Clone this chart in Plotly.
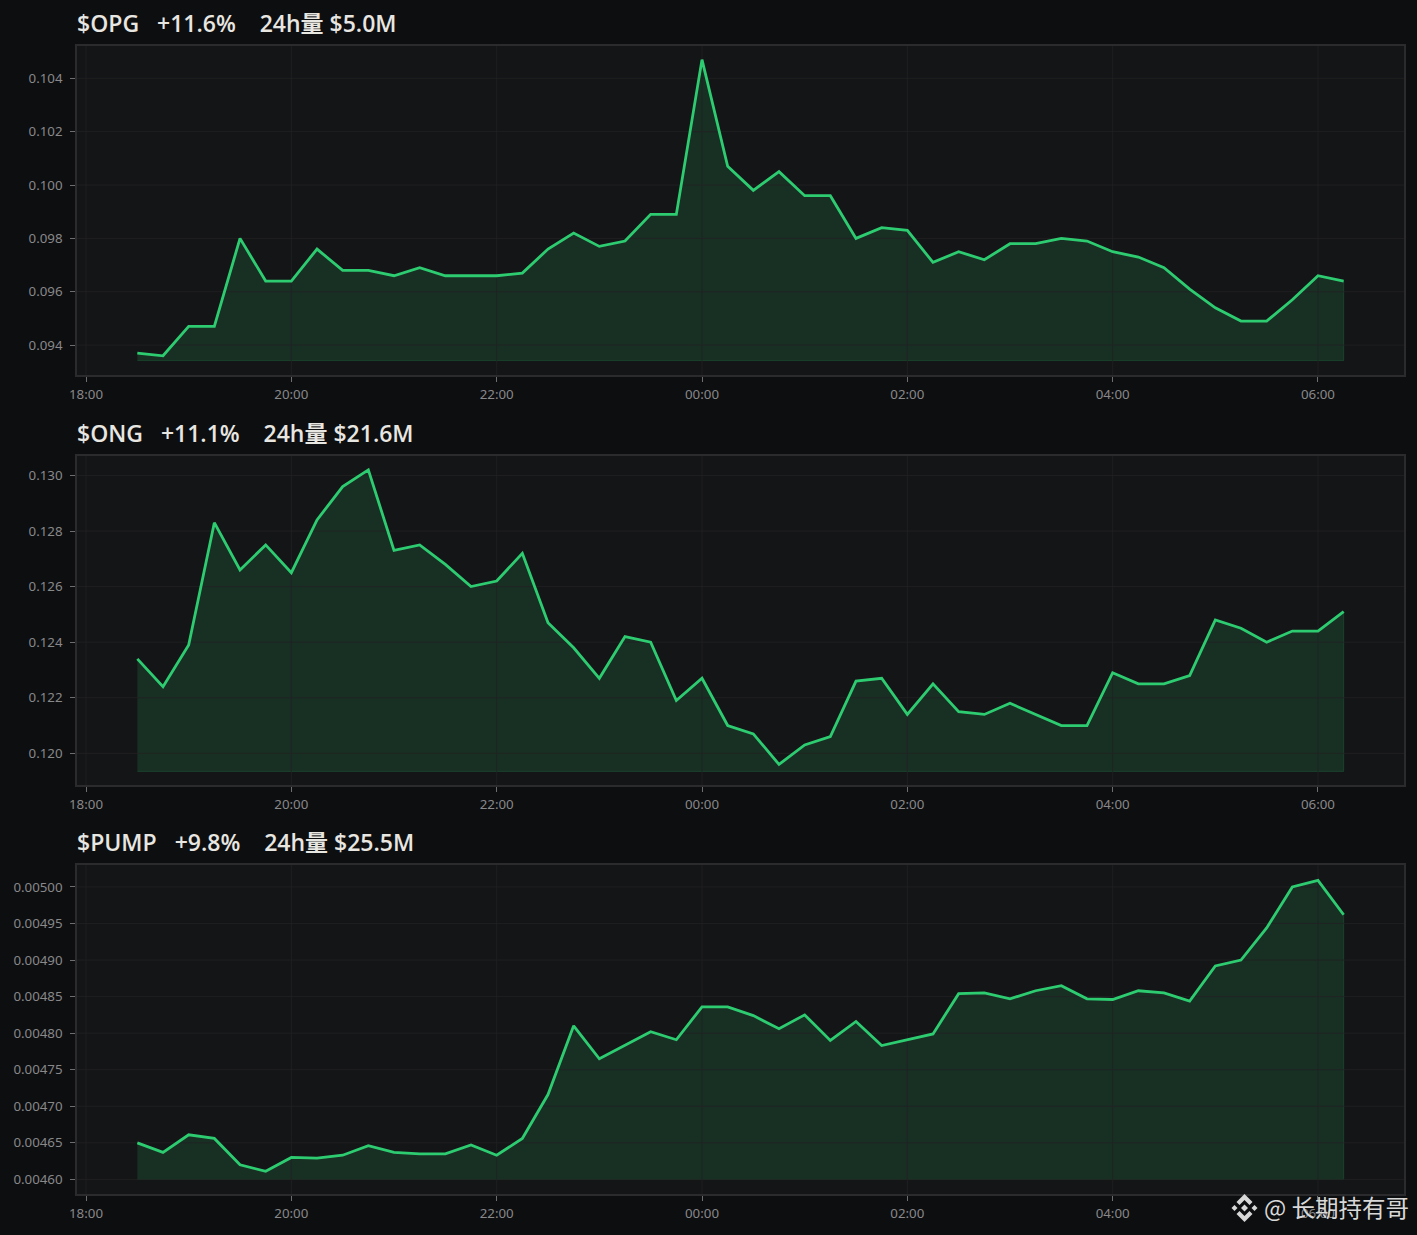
import pandas as pd
import plotly.graph_objects as go

FIG_WIDTH = 1417
FIG_HEIGHT = 1235

BG_COLOR = '#0d0e10'
PLOT_COLOR = '#141517'
GRID_COLOR = 'rgba(34,34,35,0.8)'
BORDER_COLOR = '#2b2b2d'
LINE_COLOR = '#2ecc71'
FILL_COLOR = 'rgba(46,204,113,0.15)'
TICK_COLOR = '#88888a'
TITLE_COLOR = '#e8e6e1'
FONT = 'Noto Sans, Open Sans, sans-serif'

times = pd.date_range('2025-01-01 18:30', periods=48, freq='15min')
x_ticks = pd.date_range('2025-01-01 18:00', periods=7, freq='2h')
x_labels = ['18:00', '20:00', '22:00', '00:00', '02:00', '04:00', '06:00']

titles = [
    '$OPG\u00a0\u00a0\u00a0+11.6%\u00a0\u00a0\u00a0\u00a024h量 $5.0M',
    '$ONG\u00a0\u00a0\u00a0+11.1%\u00a0\u00a0\u00a0\u00a024h量 $21.6M',
    '$PUMP\u00a0\u00a0\u00a0+9.8%\u00a0\u00a0\u00a0\u00a024h量 $25.5M',
]

opg = [0.0937, 0.0936, 0.0947, 0.0947, 0.0980, 0.0964, 0.0964, 0.0976, 0.0968, 0.0968,
       0.0966, 0.0969, 0.0966, 0.0966, 0.0966, 0.0967, 0.0976, 0.0982, 0.0977, 0.0979,
       0.0989, 0.0989, 0.1047, 0.1007, 0.0998, 0.1005, 0.0996, 0.0996, 0.0980, 0.0984,
       0.0983, 0.0971, 0.0975, 0.0972, 0.0978, 0.0978, 0.0980, 0.0979, 0.0975, 0.0973,
       0.0969, 0.0961, 0.0954, 0.0949, 0.0949, 0.0957, 0.0966, 0.0964]

ong = [0.1234, 0.1224, 0.1239, 0.1283, 0.1266, 0.1275, 0.1265, 0.1284, 0.1296, 0.1302,
       0.1273, 0.1275, 0.1268, 0.1260, 0.1262, 0.1272, 0.1247, 0.1238, 0.1227, 0.1242,
       0.1240, 0.1219, 0.1227, 0.1210, 0.1207, 0.1196, 0.1203, 0.1206, 0.1226, 0.1227,
       0.1214, 0.1225, 0.1215, 0.1214, 0.1218, 0.1214, 0.1210, 0.1210, 0.1229, 0.1225,
       0.1225, 0.1228, 0.1248, 0.1245, 0.1240, 0.1244, 0.1244, 0.1251]

pump = [0.004650, 0.004637, 0.004661, 0.004656, 0.004620, 0.004611, 0.004630, 0.004629,
        0.004633, 0.004646, 0.004637, 0.004635, 0.004635, 0.004647, 0.004633, 0.004656,
        0.004716, 0.004810, 0.004765, 0.004784, 0.004802, 0.004791, 0.004836, 0.004836,
        0.004824, 0.004806, 0.004825, 0.004790, 0.004816, 0.004783, 0.004791, 0.004799,
        0.004854, 0.004855, 0.004847, 0.004858, 0.004865, 0.004847, 0.004846, 0.004858,
        0.004855, 0.004844, 0.004892, 0.004900, 0.004944, 0.005000, 0.005009, 0.004962]

opg_ticks = [0.094, 0.096, 0.098, 0.100, 0.102, 0.104]
ong_ticks = [0.120, 0.122, 0.124, 0.126, 0.128, 0.130]
pump_ticks = [0.0046, 0.00465, 0.0047, 0.00475, 0.0048, 0.00485, 0.0049, 0.00495, 0.005]

series = [opg, ong, pump]
y_ticks = [opg_ticks, ong_ticks, pump_ticks]
y_formats = ['.3f', '.3f', '.5f']
fill_bases = [0.09342, 0.11935, 0.0046]
y_ranges = [(0.09288, 0.10521), (0.11886, 0.13070), (0.00458, 0.00503)]
panel_tops = [46, 456, 865]
PANEL_HEIGHT = 329
PANEL_LEFT = 77
PANEL_RIGHT = 1404


def px_x(x):
    return x / FIG_WIDTH


def px_y(y):
    return 1 - y / FIG_HEIGHT


x_range = [pd.Timestamp('2025-01-01 17:54:44'), pd.Timestamp('2025-01-02 06:50:16')]

fig = go.Figure()
shapes = []
annotations = []

for i, values in enumerate(series):
    suffix = '' if i == 0 else str(i + 1)
    top = panel_tops[i]
    base = fill_bases[i]
    y_lo, y_hi = y_ranges[i]
    refs = dict(xaxis=f'x{suffix}', yaxis=f'y{suffix}')

    # Closed polygon so the faint edge runs round the filled area as well
    fig.add_trace(go.Scatter(
        x=list(times) + list(times[::-1]),
        y=values + [base] * len(values),
        mode='lines', fill='toself', fillcolor=FILL_COLOR,
        line=dict(color='rgba(46,204,113,0.18)', width=1),
        hoverinfo='skip', **refs,
    ))

    # Grid has to sit over the fill but under the line, so it is a trace here
    grid_x, grid_y = [], []
    for t in x_ticks:
        grid_x += [t, t, None]
        grid_y += [y_lo, y_hi, None]
    for v in y_ticks[i]:
        grid_x += [x_range[0], x_range[1], None]
        grid_y += [v, v, None]
    fig.add_trace(go.Scatter(
        x=grid_x, y=grid_y, mode='lines',
        line=dict(color=GRID_COLOR, width=1), hoverinfo='skip', **refs,
    ))

    fig.add_trace(go.Scatter(
        x=times, y=values, mode='lines',
        line=dict(color=LINE_COLOR, width=2.8), **refs,
    ))

    axis_style = dict(
        showgrid=False, zeroline=False, automargin=False,
        showline=True, linecolor=BORDER_COLOR, linewidth=1.5, mirror=True,
        ticks='outside', ticklen=5, tickwidth=1, tickcolor='#6e6e70',
        tickfont=dict(family=FONT, size=13.3, color=TICK_COLOR),
    )
    fig.update_layout({
        f'xaxis{suffix}': dict(
            domain=[px_x(PANEL_LEFT), px_x(PANEL_RIGHT)],
            anchor=f'y{suffix}', range=x_range, type='date',
            tickmode='array', tickvals=list(x_ticks), ticktext=x_labels,
            ticklabelstandoff=1, **axis_style,
        ),
        f'yaxis{suffix}': dict(
            domain=[px_y(top + PANEL_HEIGHT), px_y(top)],
            anchor=f'x{suffix}', range=[y_lo, y_hi],
            tickmode='array', tickvals=y_ticks[i], tickformat=y_formats[i],
            ticklabelstandoff=5, **axis_style,
        ),
    })

    annotations.append(dict(
        text=titles[i], xref='paper', yref='paper',
        x=px_x(PANEL_LEFT - 2), y=px_y(top - 23), xanchor='left', yanchor='middle',
        showarrow=False,
        font=dict(family='Open Sans, Noto Sans CJK SC, sans-serif', size=23, color=TITLE_COLOR, weight=600),
    ))

# Watermark text and its diamond logo, bottom right
annotations.append(dict(
    text='@ 长期持有哥', xref='paper', yref='paper',
    x=px_x(1411), y=px_y(1207), xanchor='right', yanchor='middle', showarrow=False,
    font=dict(family='Noto Sans CJK SC, sans-serif', size=23.5, color='#d8d8d8'),
))


def diamond(cx, cy, r):
    return (f"M {px_x(cx - r)} {px_y(cy)} L {px_x(cx)} {px_y(cy - r)} "
            f"L {px_x(cx + r)} {px_y(cy)} L {px_x(cx)} {px_y(cy + r)} Z")


for cx, cy, r in [(1244.5, 1208, 3.5), (1234.5, 1208, 3), (1254.5, 1208, 3)]:
    shapes.append(dict(type='path', xref='paper', yref='paper', path=diamond(cx, cy, r),
                       fillcolor='#d8d8d8', line=dict(width=0)))
for chevron in [
    [(1244.5, 1194), (1252.5, 1202), (1249.5, 1205), (1244.5, 1200), (1239.5, 1205), (1236.5, 1202)],
    [(1244.5, 1222), (1252.5, 1214), (1249.5, 1211), (1244.5, 1216), (1239.5, 1211), (1236.5, 1214)],
]:
    path = 'M ' + ' L '.join(f'{px_x(a)} {px_y(b)}' for a, b in chevron) + ' Z'
    shapes.append(dict(type='path', xref='paper', yref='paper', path=path,
                       fillcolor='#d8d8d8', line=dict(width=0)))

fig.update_layout(
    width=FIG_WIDTH, height=FIG_HEIGHT,
    margin=dict(l=0, r=0, t=0, b=0),
    paper_bgcolor=BG_COLOR, plot_bgcolor=PLOT_COLOR,
    showlegend=False,
    annotations=annotations,
    shapes=shapes,
)

fig.write_html("out.html", config=dict(displayModeBar=False),
               post_script="document.body.style.margin='0';document.body.style.background='#0d0e10';")
